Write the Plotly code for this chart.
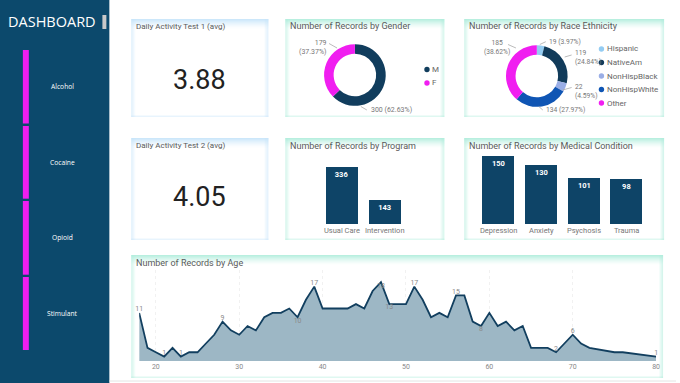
import plotly.graph_objects as go

W, H = 680, 383
def px(x): return x / W
def py(y): return 1 - y / H

# ---------------- data ----------------
sidebar_items = ["Alcohol", "Cocaine", "Opioid", "Stimulant"]
kpi_titles = ["Daily Activity Test 1 (avg)", "Daily Activity Test 2 (avg)"]
kpi_values = [3.88, 4.05]
gender_labels = ["M", "F"]
gender_values = [300, 179]
race_labels = ["Hispanic", "NativeAm", "NonHispBlack", "NonHispWhite", "Other"]
race_values = [19, 119, 22, 134, 185]
program_labels = ["Usual Care", "Intervention"]
program_values = [336, 143]
condition_labels = ["Depression", "Anxiety", "Psychosis", "Trauma"]
condition_values = [150, 130, 101, 98]
ages = [18, 19, 20, 21, 22, 23, 24, 25, 26, 27, 28, 29, 30, 31, 32, 33, 34, 35, 36, 37,
        38, 39, 40, 41, 42, 43, 44, 45, 46, 47, 48, 49, 50, 51, 52, 53, 54, 55, 56, 57,
        58, 59, 60, 61, 62, 63, 64, 65, 66, 67, 68, 69, 70, 71, 72, 75, 76, 80]
age_counts = [11, 3, 2, 1, 3, 1, 2, 2, 4, 6, 9, 7, 6, 8, 7, 10, 11, 11, 12, 10,
              14, 17, 12, 12, 12, 12, 13, 12, 16, 18, 13, 13, 13, 17, 14, 10, 11, 10, 15, 15,
              9, 8, 11, 8, 9, 7, 8, 3, 3, 3, 2, 4, 6, 4, 3, 2, 2, 1]
age_labeled = {18: "top center", 21: "top center", 23: "top center", 28: "top center",
               37: "bottom center", 39: "top center", 47: "bottom center", 48: "bottom center",
               51: "top center", 56: "top center", 59: "bottom center", 68: "top center",
               70: "top center", 80: "top center"}
age_ticks = [20, 30, 40, 50, 60, 70, 80]

# ---------------- styles ----------------
NAVY = "#0c496c"
MAGENTA = "#f01ef0"
BAR = "#0e4467"
gender_colors = ["#113d5d", MAGENTA]
race_colors = ["#94ccf2", "#113b5a", "#9aaee6", "#0f55b4", MAGENTA]
GRAY = "#666666"
FONT = "Roboto"

fig = go.Figure()
shapes = []
ann = []

# sidebar
shapes.append(dict(type="rect", xref="paper", yref="paper", x0=0, x1=px(110), y0=0, y1=1,
                   fillcolor=NAVY, line=dict(width=0), layer="below"))
shapes.append(dict(type="rect", xref="paper", yref="paper", x0=px(103), x1=px(107), y0=py(29), y1=py(15),
                   fillcolor="#c9c9c9", line=dict(width=0), layer="below"))
ann.append(dict(text="DASHBOARD", x=px(52), y=py(21), xref="paper", yref="paper", showarrow=False,
                font=dict(family="Open Sans", size=14.5, color="white"), xanchor="center", yanchor="middle"))
seg = [(50, 123.5), (126, 198.7), (201, 274.7), (277, 350)]
for (a, b), name in zip(seg, sidebar_items):
    shapes.append(dict(type="rect", xref="paper", yref="paper", x0=px(23), x1=px(29), y0=py(b), y1=py(a),
                       fillcolor=MAGENTA, line=dict(width=0), layer="below"))
    ann.append(dict(text=name, x=px(63), y=py((a + b) / 2), xref="paper", yref="paper", showarrow=False,
                    font=dict(family="Open Sans", size=6.7, color="white", weight=500),
                    xanchor="center", yanchor="middle"))

# bottom line
shapes.append(dict(type="line", xref="paper", yref="paper", x0=px(110), x1=1, y0=py(381), y1=py(381),
                   line=dict(color="#e4e4e4", width=1), layer="below"))

# cards
BLUE_C = (198, 228, 250)
MINT_C = (176, 237, 220)
cards = [
    (132, 270, 19, 117, BLUE_C, kpi_titles[0], 8),
    (132, 270, 138, 240, BLUE_C, kpi_titles[1], 8),
    (287, 447, 19, 117, MINT_C, "Number of Records by Gender", 9),
    (467, 668, 19, 117, MINT_C, "Number of Records by Race Ethnicity", 9),
    (287, 447, 138, 240, MINT_C, "Number of Records by Program", 9),
    (467, 668, 138, 240, MINT_C, "Number of Records by Medical Condition", 9),
    (132, 667, 255, 378, MINT_C, "Number of Records by Age", 9),
]
def rgba(c, a):
    return "rgba(%d,%d,%d,%.3f)" % (c[0], c[1], c[2], a)
for x0, x1, y0, y1, col, title, fs in cards:
    n = 10
    for i in range(n):
        a = 0.9 * (1 - i / n) ** 1.5
        shapes.append(dict(type="rect", xref="paper", yref="paper", x0=px(x0), x1=px(x1),
                           y0=py(y0 + i + 1), y1=py(y0 + i), fillcolor=rgba(col, a),
                           line=dict(width=0), layer="below"))
    for i in range(4):
        a = 0.55 * (1 - i / 4)
        shapes.append(dict(type="rect", xref="paper", yref="paper", x0=px(x0 + i), x1=px(x0 + i + 1),
                           y0=py(y1), y1=py(y0), fillcolor=rgba(col, a), line=dict(width=0), layer="below"))
        shapes.append(dict(type="rect", xref="paper", yref="paper", x0=px(x1 - i - 1), x1=px(x1 - i),
                           y0=py(y1), y1=py(y0), fillcolor=rgba(col, a), line=dict(width=0), layer="below"))
    for i in range(2):
        a = 0.4 * (1 - i / 2)
        shapes.append(dict(type="rect", xref="paper", yref="paper", x0=px(x0), x1=px(x1),
                           y0=py(y1 - i), y1=py(y1 - i - 1), fillcolor=rgba(col, a),
                           line=dict(width=0), layer="below"))
    ann.append(dict(text=title, x=px(x0 + 2.5), y=py(y0 + 7.5), xref="paper", yref="paper", showarrow=False,
                    font=dict(family=FONT, size=fs, color="#5a5a5a"), xanchor="left", yanchor="middle"))

# KPI values
for v, cy in zip(kpi_values, [80, 197]):
    ann.append(dict(text="%.2f" % v, x=px(201), y=py(cy), xref="paper", yref="paper", showarrow=False,
                    font=dict(family=FONT, size=27, color="#222222"), xanchor="center", yanchor="middle"))

# ---------------- donuts ----------------
fig.add_trace(go.Pie(labels=gender_labels, values=gender_values, hole=0.69, sort=False,
                     direction="clockwise", rotation=0, textinfo="none", hoverinfo="skip",
                     marker=dict(colors=gender_colors, line=dict(width=0)),
                     domain=dict(x=[px(326), px(388)], y=[py(106), py(44)])))
fig.add_trace(go.Pie(labels=race_labels, values=race_values, hole=0.69, sort=False,
                     direction="clockwise", rotation=0, textinfo="none", hoverinfo="skip",
                     marker=dict(colors=race_colors, line=dict(width=0)),
                     domain=dict(x=[px(509), px(571)], y=[py(107), py(45)])))

def pct(v, vals):
    return "%.2f%%" % (100.0 * v / sum(vals))

# label layouts: (x, y, xanchor, align, two-line?, leader line)
g_lay = [
    (371, 110, "left", "left", False, (363, 106.5, 369, 110)),
    (331, 47, "right", "right", True, (331, 43.5, 339, 48)),
]
for (lab, v), (x, y, xa, al, two, ld) in zip(zip(gender_labels, gender_values), g_lay):
    t = ("%d<br>(%s)" if two else "%d (%s)") % (v, pct(v, gender_values))
    ann.append(dict(text=t, x=px(x), y=py(y), xref="paper", yref="paper", showarrow=False,
                    font=dict(family=FONT, size=7, color="#777777"), xanchor=xa, yanchor="middle", align=al))
    shapes.append(dict(type="line", xref="paper", yref="paper", x0=px(ld[0]), y0=py(ld[1]),
                       x1=px(ld[2]), y1=py(ld[3]), line=dict(color="#aaaaaa", width=0.8)))
r_lay = [
    (550, 41.7, "left", "left", False, (543, 44.5, 549, 41.7)),
    (576, 57.5, "left", "left", True, (568, 57, 575, 55)),
    (576, 91.5, "left", "left", True, (566, 90, 575, 87.5)),
    (547, 110, "left", "left", False, (542, 106.5, 546, 110)),
    (500, 47, "center", "center", True, (511, 44.5, 519, 48)),
]
for (lab, v), (x, y, xa, al, two, ld) in zip(zip(race_labels, race_values), r_lay):
    t = ("%d<br>(%s)" if two else "%d (%s)") % (v, pct(v, race_values))
    ann.append(dict(text=t, x=px(x), y=py(y), xref="paper", yref="paper", showarrow=False,
                    font=dict(family=FONT, size=6.7, color="#777777"), xanchor=xa, yanchor="middle", align=al))
    shapes.append(dict(type="line", xref="paper", yref="paper", x0=px(ld[0]), y0=py(ld[1]),
                       x1=px(ld[2]), y1=py(ld[3]), line=dict(color="#aaaaaa", width=0.8)))

# manual legends
def legend(labels, colors, cx, tx, y0, dy, fs):
    for i, (lab, c) in enumerate(zip(labels, colors)):
        y = y0 + i * dy
        shapes.append(dict(type="circle", xref="paper", yref="paper", x0=px(cx - 2.7), x1=px(cx + 2.7),
                           y0=py(y + 2.7), y1=py(y - 2.7), fillcolor=c, line=dict(width=0)))
        ann.append(dict(text=lab, x=px(tx), y=py(y), xref="paper", yref="paper", showarrow=False,
                        font=dict(family=FONT, size=fs, color=GRAY), xanchor="left", yanchor="middle"))
legend(gender_labels, gender_colors, 429.5, 432.5, 69.5, 13.5, 8)
legend(race_labels, race_colors, 605, 608.5, 49, 13.5, 8)

# ---------------- bars ----------------
fig.add_trace(go.Bar(x=program_labels, y=program_values, marker=dict(color=BAR, line=dict(width=0)),
                     width=0.745, text=program_values, texttemplate="<b>%{y}</b>", textposition="inside",
                     insidetextanchor="end", textfont=dict(family=FONT, size=7.5, color="white"),
                     hoverinfo="skip", xaxis="x", yaxis="y"))
fig.add_trace(go.Bar(x=condition_labels, y=condition_values, marker=dict(color=BAR, line=dict(width=0)),
                     width=0.75, text=condition_values, texttemplate="<b>%{y}</b>", textposition="inside",
                     insidetextanchor="end", textfont=dict(family=FONT, size=7.5, color="white"),
                     hoverinfo="skip", xaxis="x2", yaxis="y2"))

# ---------------- age area ----------------
texts = [str(c) if a in age_labeled else "" for a, c in zip(ages, age_counts)]
poss = [age_labeled.get(a, "top center") for a in ages]
fig.add_trace(go.Scatter(x=ages, y=age_counts, mode="lines+text", fill="tozeroy",
                         fillcolor="#9db7c5", line=dict(color="#123f5f", width=1.8),
                         text=texts, textposition=poss, cliponaxis=False,
                         textfont=dict(family=FONT, size=7, color="#8a8a8a"),
                         hoverinfo="skip", xaxis="x3", yaxis="y3"))

cat_axis = dict(showgrid=False, zeroline=False, showline=False, ticks="",
                tickfont=dict(family=FONT, size=7.5, color="#777777"))
fig.update_layout(
    width=W, height=H, margin=dict(l=0, r=0, t=0, b=0),
    paper_bgcolor="white", plot_bgcolor="rgba(0,0,0,0)", showlegend=False,
    shapes=shapes, annotations=ann, bargap=0,
    xaxis=dict(domain=[px(322.5), px(408.5)], anchor="y", range=[-0.5, 1.5], **cat_axis),
    yaxis=dict(domain=[py(224), py(160)], anchor="x", range=[0, 375], visible=False),
    xaxis2=dict(domain=[px(480.2), px(651.8)], anchor="y2", range=[-0.5, 3.5], **cat_axis),
    yaxis2=dict(domain=[py(224), py(150)], anchor="x2", range=[0, 162.5], visible=False),
    xaxis3=dict(domain=[px(140), px(660)], anchor="y3", range=[18, 80], tickvals=age_ticks,
                showgrid=True, gridcolor="#f1f1f1", griddash="dot", zeroline=False, showline=False,
                ticks="", tickfont=dict(family=FONT, size=7, color="#888888")),
    yaxis3=dict(domain=[py(361), py(270)], anchor="x3", range=[0, 20.8], visible=False),
)
fig.write_html("out.html", config={"displayModeBar": False},
               post_script="document.body.style.margin='0';document.body.style.overflow='hidden';")
